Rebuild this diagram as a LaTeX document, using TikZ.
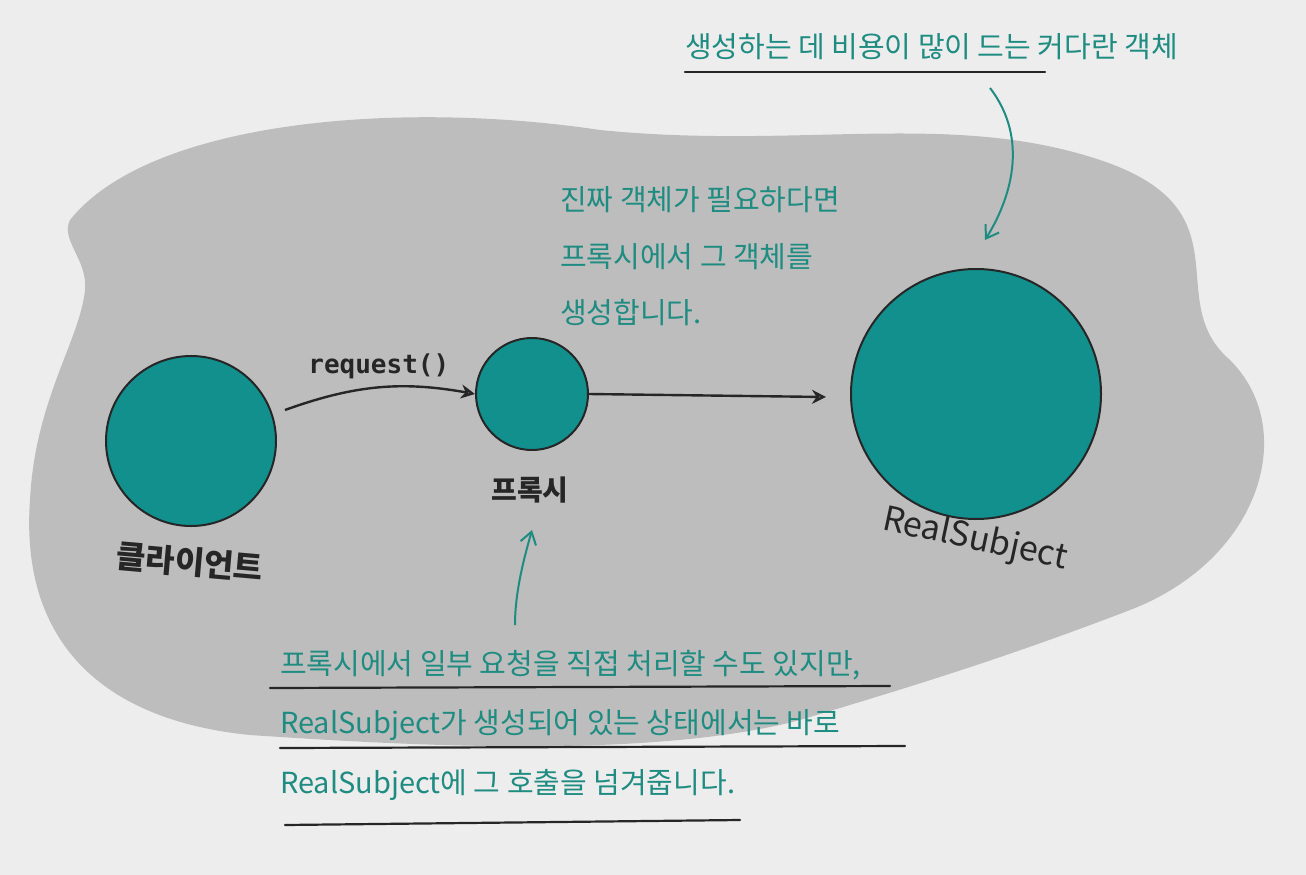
\documentclass[tikz,border=0pt]{standalone}
\usepackage{fontspec}
\newfontfamily\kr{Noto Sans CJK KR}
\newfontfamily\mono{DejaVu Sans Mono}
\usetikzlibrary{arrows.meta}
\definecolor{teal1}{HTML}{11908E}
\definecolor{tealtxt}{HTML}{1F8C82}
\definecolor{blob}{HTML}{BDBDBD}
\definecolor{paper}{HTML}{EDEDED}
\tikzset{
  ball/.style={circle,fill=teal1,draw=black!85,line width=2pt,inner sep=0pt},
  note/.style={text=tealtxt,font=\kr\fontsize{29}{32}\selectfont,anchor=west,inner sep=0pt},
  lab/.style={text=black!85,font=\kr\bfseries\fontsize{32}{36}\selectfont},
  ul/.style={draw=black!85,line width=2.2pt,line cap=round},
  arr/.style={draw=black!85,line width=2.4pt,-{Stealth[length=14pt,width=14pt,open]}},
  tarr/.style={draw=tealtxt,line width=2pt,-{Straight Barb[length=12pt,width=16pt]}}
}
\begin{document}
\begin{tikzpicture}[x=1pt,y=-1pt]
\fill[paper] (0,0) rectangle (1306,875);
\useasboundingbox (0,0) rectangle (1306,875);
\fill[blob] (70,220) .. controls (150,120) and (400,100) .. (600,130)
  .. controls (800,150) and (950,110) .. (1100,160)
  .. controls (1250,210) and (1160,300) .. (1230,360)
  .. controls (1300,430) and (1260,560) .. (1130,610)
  .. controls (1000,660) and (900,690) .. (800,720)
  .. controls (650,760) and (400,745) .. (250,735)
  .. controls (100,720) and (20,640) .. (30,500)
  .. controls (35,400) and (80,340) .. (85,290)
  .. controls (88,260) and (60,240) .. (70,220) -- cycle;
\node[ball,minimum size=170pt] (client) at (191,441) {};
\node[ball,minimum size=112pt] (proxy) at (532,394) {};
\node[ball,minimum size=250pt] (real) at (976,394) {};
\draw[arr] (285,410) to[bend left=15] node[above=4pt,font=\mono\bfseries\fontsize{26}{30}\selectfont,text=black!85] (req) {request()} (proxy.west);
\coordinate (ra) at (826,397);
\draw[arr] (proxy.east) -- (ra);
\node[lab,rotate=-5] (lc) at (190,562) {클라이언트};
\node[lab,font=\kr\bfseries\fontsize{28}{32}\selectfont] (lp) at (530,490) {프록시};
\node[lab,rotate=-12,font=\kr\fontsize{34}{38}\selectfont] (lr) at (975,540) {RealSubject};
\node[note] (n1) at (560,200) {진짜 객체가 필요하다면};
\node[note] (n2) at (560,257) {프록시에서 그 객체를};
\node[note] (n3) at (560,313) {생성합니다.};
\node[note] (top) at (685,47) {생성하는 데 비용이 많이 드는 커다란 객체};
\coordinate (u1a) at (685,72); \coordinate (u1b) at (1045,72);
\draw[ul] (u1a) -- (u1b);
\coordinate (ta) at (990,88); \coordinate (tb) at (985,240);
\draw[tarr] (ta) .. controls (1030,140) and (1010,200) .. (tb);
\node[note] (b1) at (280,665) {프록시에서 일부 요청을 직접 처리할 수도 있지만,};
\node[note] (b2) at (280,725) {RealSubject가 생성되어 있는 상태에서는 바로};
\node[note] (b3) at (280,785) {RealSubject에 그 호출을 넘겨줍니다.};
\coordinate (a1) at (270,688); \coordinate (a2) at (890,686);
\coordinate (c1) at (280,748); \coordinate (c2) at (905,746);
\coordinate (d1) at (285,825); \coordinate (d2) at (740,820);
\draw[ul] (a1) -- (a2); \draw[ul] (c1) -- (c2); \draw[ul] (d1) -- (d2);
\coordinate (pa) at (515,625); \coordinate (pb) at (532,530);
\draw[tarr] (pa) .. controls (515,590) and (525,555) .. (pb);
\end{tikzpicture}
\end{document}
